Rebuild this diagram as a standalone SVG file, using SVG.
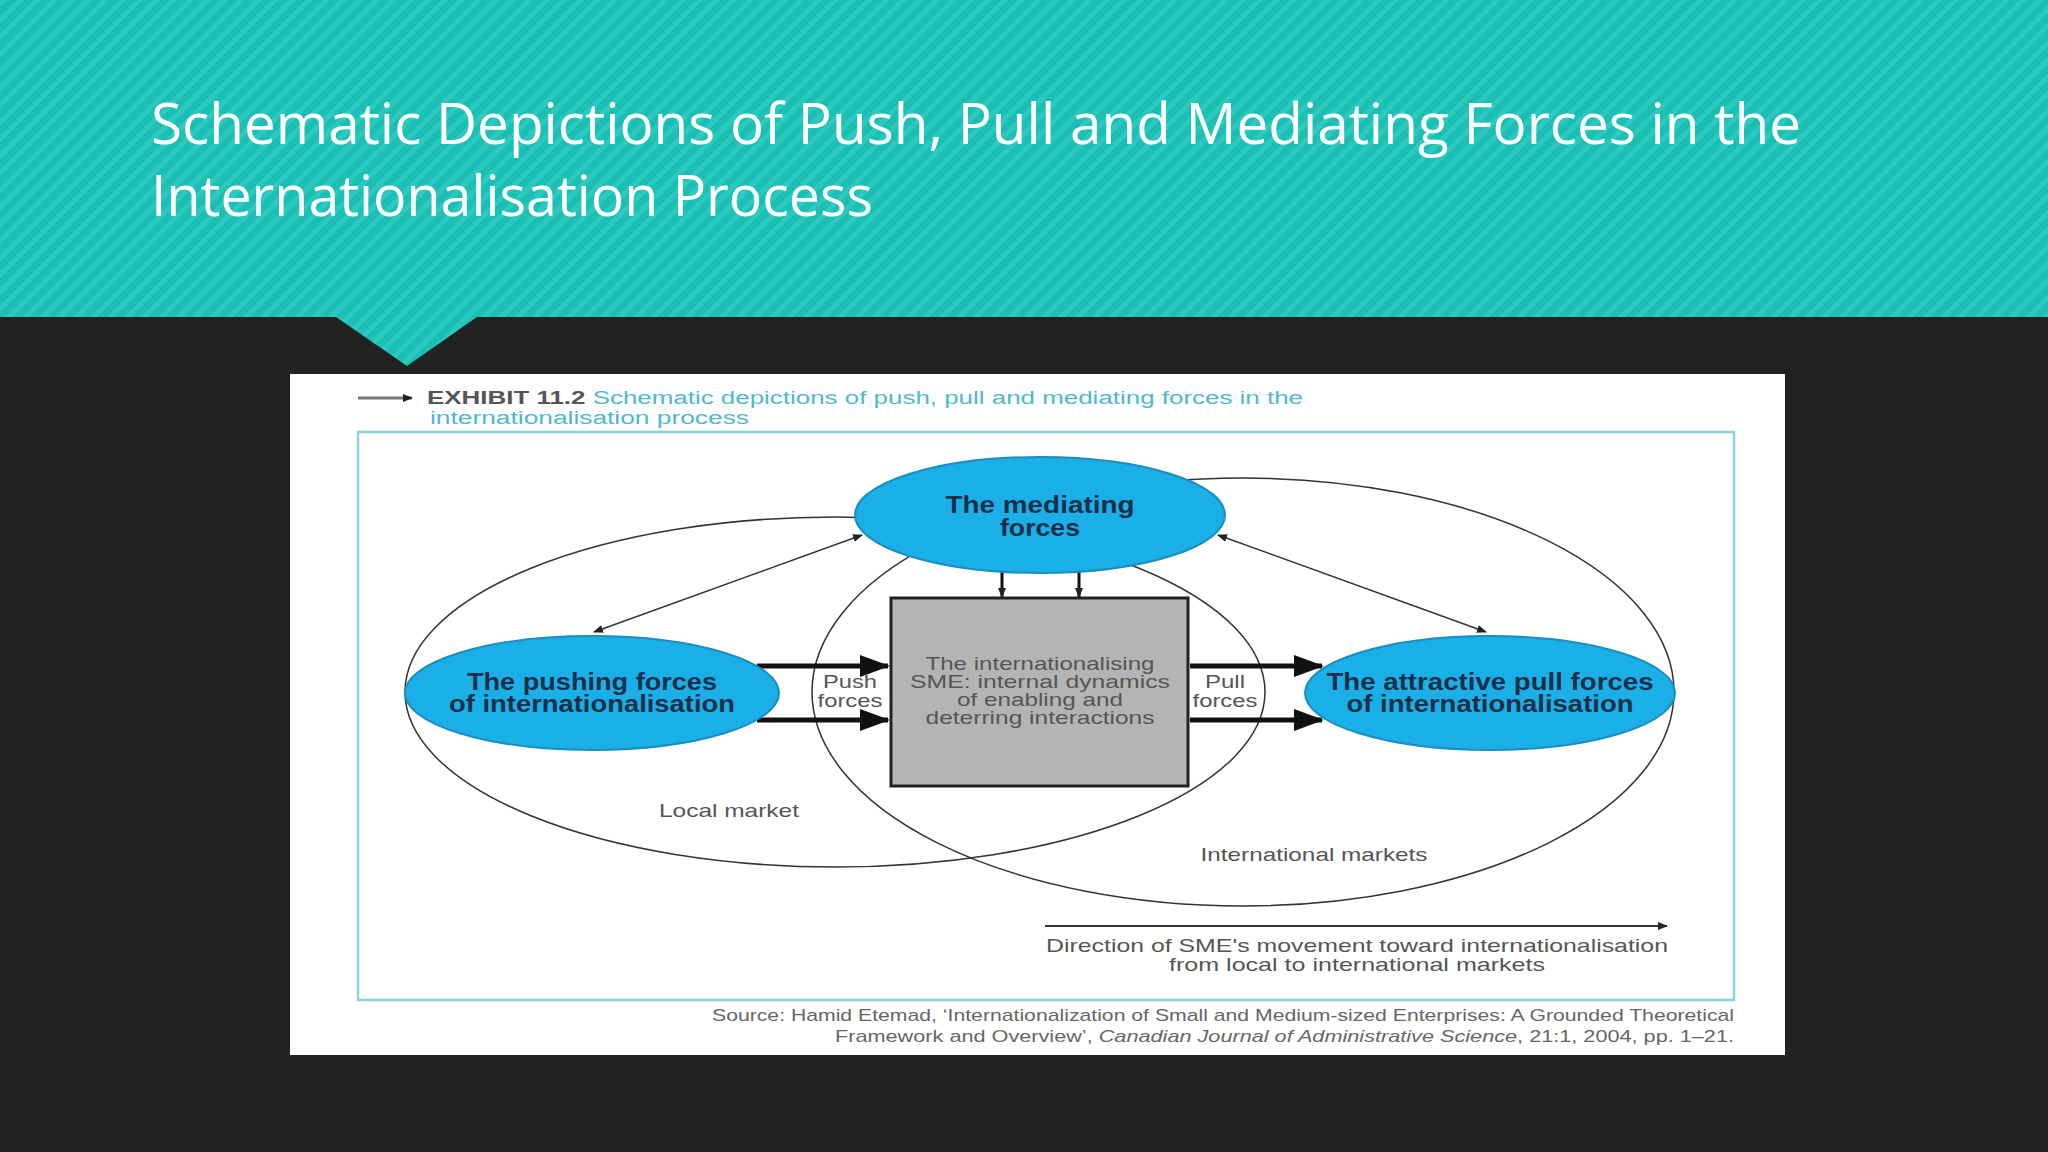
<svg xmlns="http://www.w3.org/2000/svg" width="2048" height="1152" viewBox="0 0 2048 1152">
<defs>
<pattern id="stripes" width="12" height="12" patternUnits="userSpaceOnUse" patternTransform="rotate(45)">
<rect width="12" height="12" fill="#1cbfb4"/><rect width="5" height="12" fill="#2cc9bf"/>
</pattern>
<marker id="ah" markerWidth="10" markerHeight="8" refX="9" refY="4" orient="auto" markerUnits="userSpaceOnUse"><path d="M0,0 L10,4 L0,8 Z" fill="#222"/></marker>
<marker id="ahs" markerWidth="10" markerHeight="8" refX="1" refY="4" orient="auto" markerUnits="userSpaceOnUse"><path d="M10,0 L0,4 L10,8 Z" fill="#222"/></marker>
<marker id="big" markerWidth="30" markerHeight="22" refX="28" refY="11" orient="auto" markerUnits="userSpaceOnUse"><path d="M0,0 L30,11 L0,22 Z" fill="#111"/></marker>
<style>
.t{font-family:"Liberation Sans",Arial,sans-serif;}
.node{fill:#1aafe6;stroke:#1a8ec0;stroke-width:2}
.nt{font-family:"Liberation Sans",Arial,sans-serif;font-size:23px;fill:#1b2f4a;text-anchor:middle;font-weight:bold}
.thin{fill:none;stroke:#333;stroke-width:1.5}
.gt{font-family:"Liberation Sans",Arial,sans-serif;font-size:19px;fill:#555;text-anchor:middle}
.thick{stroke:#111;stroke-width:5;marker-end:url(#big)}
</style>
</defs>
<rect width="2048" height="1152" fill="#222"/>
<path d="M0,0 H2048 V317 H477 L407,366 L336,317 H0 Z" fill="url(#stripes)"/>
<g class="t" fill="#fff" font-size="56" style="font-family:'Open Sans','Noto Sans',sans-serif">
<text x="151" y="144" textLength="1650" lengthAdjust="spacingAndGlyphs">Schematic Depictions of Push, Pull and Mediating Forces in the</text>
<text x="151" y="216" textLength="722" lengthAdjust="spacingAndGlyphs">Internationalisation Process</text>
</g>
<rect x="290" y="374" width="1495" height="681" fill="#fff"/>
<rect x="358" y="432" width="1376" height="568" fill="none" stroke="#8fd0dc" stroke-width="2.5"/>
<g id="header">
<line x1="358" y1="398" x2="412" y2="398" stroke="#777" stroke-width="3" marker-end="url(#ah)"/>
<text class="t" x="427" y="404" font-size="18" fill="#555" font-weight="bold" textLength="876" lengthAdjust="spacingAndGlyphs">EXHIBIT 11.2 <tspan fill="#4fb8d0" font-weight="normal">Schematic depictions of push, pull and mediating forces in the</tspan></text>
<text class="t" x="430" y="424" font-size="18" fill="#4fb8d0" textLength="319" lengthAdjust="spacingAndGlyphs">internationalisation process</text>
</g>
<g id="markets">
<ellipse cx="835" cy="692" rx="430" ry="175" class="thin"/>
<ellipse cx="1243" cy="692" rx="431" ry="214" class="thin"/>
<text class="gt" x="729" y="817" textLength="140" lengthAdjust="spacingAndGlyphs">Local market</text>
<text class="gt" x="1314" y="861" textLength="227" lengthAdjust="spacingAndGlyphs">International markets</text>
</g>
<g id="connectors">
<line x1="1002" y1="572" x2="1002" y2="597" stroke="#111" stroke-width="3" marker-end="url(#ah)"/>
<line x1="1079" y1="572" x2="1079" y2="597" stroke="#111" stroke-width="3" marker-end="url(#ah)"/>
<line x1="862" y1="535" x2="594" y2="632" stroke="#333" stroke-width="1.5" marker-start="url(#ahs)" marker-end="url(#ah)"/>
<line x1="1218" y1="535" x2="1486" y2="632" stroke="#333" stroke-width="1.5" marker-start="url(#ahs)" marker-end="url(#ah)"/>
<line x1="757" y1="666" x2="888" y2="666" class="thick"/>
<line x1="757" y1="720" x2="888" y2="720" class="thick"/>
<line x1="1190" y1="666" x2="1322" y2="666" class="thick"/>
<line x1="1190" y1="720" x2="1322" y2="720" class="thick"/>
</g>
<g id="mediating"><ellipse cx="1040" cy="515" rx="185" ry="58" class="node"/>
<text class="nt" x="1040" y="513" textLength="189" lengthAdjust="spacingAndGlyphs">The mediating</text><text class="nt" x="1040" y="536" textLength="80" lengthAdjust="spacingAndGlyphs">forces</text></g>
<g id="pushing"><ellipse cx="592" cy="693" rx="187" ry="57" class="node"/>
<text class="nt" x="592" y="690" textLength="250" lengthAdjust="spacingAndGlyphs">The pushing forces</text><text class="nt" x="592" y="712" textLength="286" lengthAdjust="spacingAndGlyphs">of internationalisation</text></g>
<g id="pull"><ellipse cx="1490" cy="693" rx="185" ry="57" class="node"/>
<text class="nt" x="1490" y="690" textLength="327" lengthAdjust="spacingAndGlyphs">The attractive pull forces</text><text class="nt" x="1490" y="712" textLength="287" lengthAdjust="spacingAndGlyphs">of internationalisation</text></g>
<g id="sme"><rect x="891" y="598" width="297" height="188" fill="#b4b4b4" stroke="#222" stroke-width="3"/>
<text class="gt" x="1040" y="670" textLength="229" lengthAdjust="spacingAndGlyphs">The internationalising</text>
<text class="gt" x="1040" y="688" textLength="260" lengthAdjust="spacingAndGlyphs">SME: internal dynamics</text>
<text class="gt" x="1040" y="706" textLength="166" lengthAdjust="spacingAndGlyphs">of enabling and</text>
<text class="gt" x="1040" y="724" textLength="229" lengthAdjust="spacingAndGlyphs">deterring interactions</text></g>
<g id="labels">
<text class="gt" x="850" y="688" textLength="54" lengthAdjust="spacingAndGlyphs">Push</text><text class="gt" x="850" y="707" textLength="65" lengthAdjust="spacingAndGlyphs">forces</text>
<text class="gt" x="1225" y="688" textLength="40" lengthAdjust="spacingAndGlyphs">Pull</text><text class="gt" x="1225" y="707" textLength="65" lengthAdjust="spacingAndGlyphs">forces</text>
</g>
<g id="direction">
<line x1="1045" y1="926" x2="1667" y2="926" stroke="#333" stroke-width="2" marker-end="url(#ah)"/>
<text class="gt" x="1357" y="952" textLength="622" lengthAdjust="spacingAndGlyphs">Direction of SME's movement toward internationalisation</text>
<text class="gt" x="1357" y="971" textLength="376" lengthAdjust="spacingAndGlyphs">from local to international markets</text>
</g>
<g class="t" font-size="17" fill="#666" text-anchor="end">
<text x="1734" y="1021" textLength="1022" lengthAdjust="spacingAndGlyphs">Source: Hamid Etemad, ‘Internationalization of Small and Medium-sized Enterprises: A Grounded Theoretical</text>
<text x="1734" y="1042" textLength="899" lengthAdjust="spacingAndGlyphs">Framework and Overview’, <tspan font-style="italic">Canadian Journal of Administrative Science</tspan>, 21:1, 2004, pp. 1–21.</text>
</g>
</svg>
